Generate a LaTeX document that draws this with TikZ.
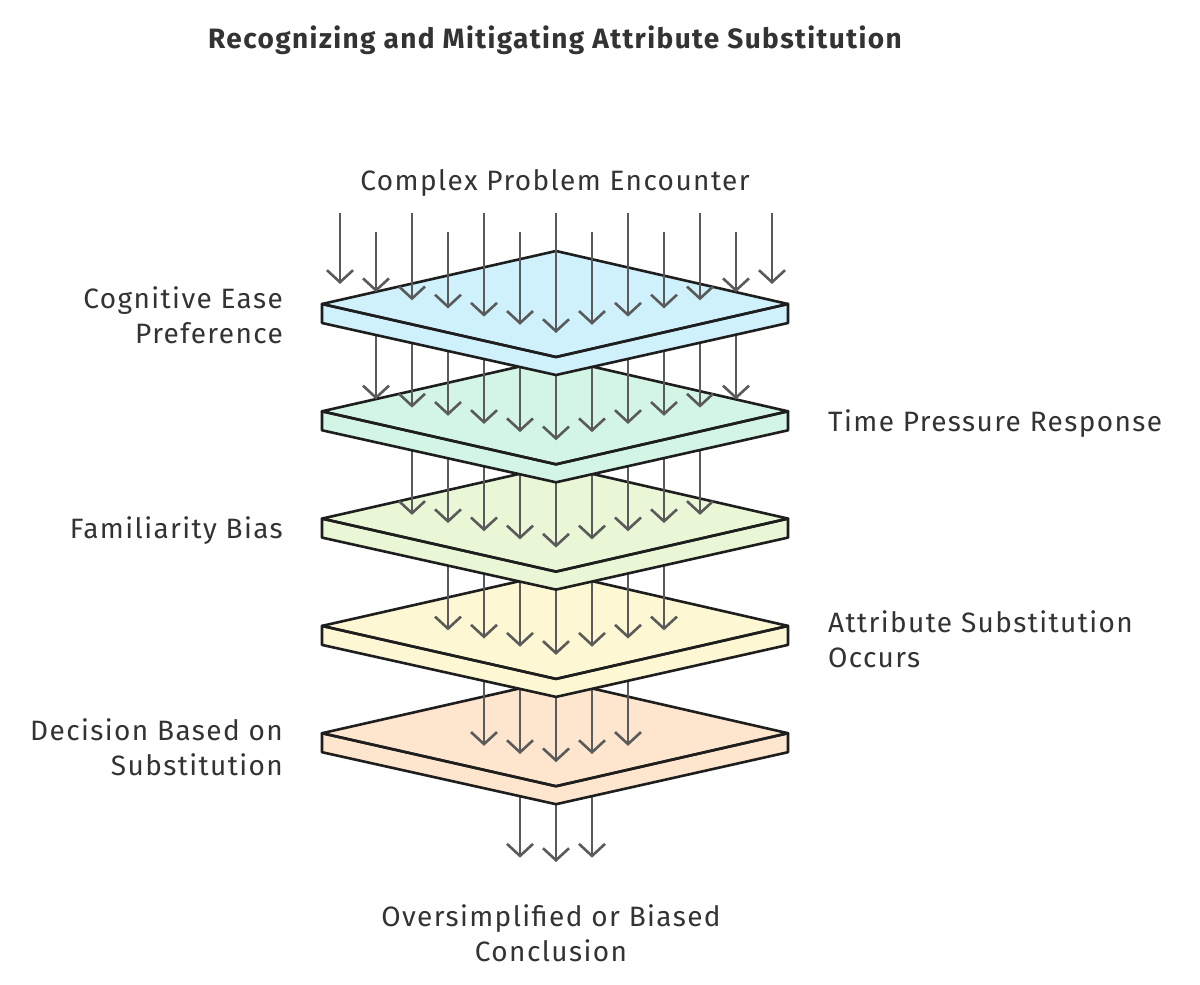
\documentclass[tikz,border=0pt]{standalone}
\usepackage{fontspec}
\setmainfont{Fira Sans}[LetterSpace=5]
\usetikzlibrary{arrows.meta}
\definecolor{c1}{HTML}{CFF1FC}
\definecolor{c2}{HTML}{D3F5E6}
\definecolor{c3}{HTML}{EAF7D6}
\definecolor{c4}{HTML}{FDF8D3}
\definecolor{c5}{HTML}{FDE5CE}
\definecolor{ink}{HTML}{1E1E1E}
\definecolor{txt}{HTML}{333333}
\definecolor{arr}{HTML}{5A5A5A}
\tikzset{
  flow/.style={draw=arr, line width=2.6pt, -{Straight Barb[length=12pt,width=26pt,line width=2.6pt]}},
  slabface/.style={draw=ink, line width=2.6pt, line join=round},
  lbl/.style={font=\fontsize{28}{35}\selectfont, text=txt, inner sep=0pt},
}
\begin{document}
\begin{tikzpicture}[x=1pt,y=-1pt]
\useasboundingbox[fill=white] (0,0) rectangle (1200,985);
\node[font=\bfseries\fontsize{28}{32}\selectfont, text=txt] (title) at (555,40) {Recognizing and Mitigating Attribute Substitution};
% output arrows
\foreach \x in {520,556,592}{
  \pgfmathsetmacro{\tip}{862-0.12*abs(\x-556)}
  \coordinate (os\x) at (\x,740);
  \coordinate (oe\x) at (\x,\tip);
  \draw[flow] (os\x) -- (oe\x);
}
\foreach \n/\col/\half in {5/c5/2,4/c4/3,3/c3/4,2/c2/5,1/c1/6}{
  \pgfmathsetmacro{\T}{251+107.3*(\n-1)}
  \coordinate (t\n) at (556,\T);
  \coordinate (r\n) at (788,\T+53);
  \coordinate (b\n) at (556,\T+106);
  \coordinate (l\n) at (322,\T+53);
  \coordinate (lb\n) at (322,\T+72);
  \coordinate (bb\n) at (556,\T+124);
  \coordinate (rb\n) at (788,\T+72);
  \fill[\col] (l\n) -- (t\n) -- (r\n) -- (rb\n) -- (bb\n) -- (lb\n) -- cycle;
  \draw[slabface] (l\n) -- (t\n) -- (r\n) -- (b\n) -- cycle;
  \draw[slabface] (l\n) -- (lb\n) -- (bb\n) -- (rb\n) -- (r\n) -- (b\n) -- cycle;
  \foreach \k in {-\half,...,\half}{
    \pgfmathsetmacro{\x}{556+36*\k}
    \pgfmathsetmacro{\tip}{333+107.3*(\n-1)-0.227*abs(36*\k)}
    \pgfmathsetmacro{\st}{\n==1 ? (mod(\k+6,2)==0 ? 213 : 232) : 300+107.3*(\n-2)}
    \coordinate (as\n\k) at (\x,\st);
    \coordinate (ae\n\k) at (\x,\tip);
    \draw[flow] (as\n\k) -- (ae\n\k);
  }
}
\node[lbl] (top) at (555,183) {Complex Problem Encounter};
\node[lbl, anchor=east, align=right] (la) at (283,315) {Cognitive Ease\\Preference};
\node[lbl, anchor=west] (lb) at (828,424) {Time Pressure Response};
\node[lbl, anchor=east] (lc) at (283,531) {Familiarity Bias};
\node[lbl, anchor=west, align=left] (ld) at (828,639) {Attribute Substitution\\Occurs};
\node[lbl, anchor=east, align=right] (le) at (283,747) {Decision Based on\\Substitution};
\node[lbl, align=center] (lf) at (551,933) {Oversimplified or Biased\\Conclusion};
\end{tikzpicture}
\end{document}
